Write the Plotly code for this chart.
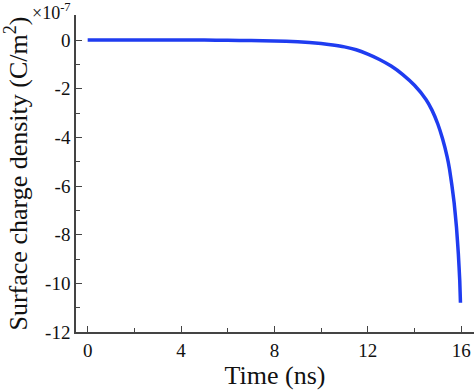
import plotly.graph_objects as go

time_ns = [0, 1, 2, 3, 4, 5, 6, 7, 8, 9, 10, 10.5, 11, 11.5, 12, 12.5, 13, 13.5, 14,
           14.5, 14.75, 15.0, 15.2, 15.4, 15.5, 15.6, 15.7, 15.8, 15.88, 15.94, 15.97]
density_e7 = [0, 0, 0, 0, 0, 0, -0.01, -0.02, -0.04, -0.07, -0.14, -0.2, -0.28, -0.4,
              -0.58, -0.8, -1.07, -1.42, -1.86, -2.45, -2.88, -3.45, -4.05, -4.8, -5.3,
              -5.95, -6.7, -7.7, -8.8, -9.9, -10.8]

x_ticks = [0, 4, 8, 12, 16]
y_ticks = [0, -2, -4, -6, -8, -10, -12]

font_family = "Liberation Serif, Times New Roman, DejaVu Serif, serif"

fig = go.Figure()
fig.add_trace(go.Scatter(
    x=time_ns, y=density_e7, mode="lines",
    line=dict(color="#1f3cf0", width=3.5, shape="spline", smoothing=0.4),
    showlegend=False, hoverinfo="skip",
))

axis_common = dict(
    showgrid=False, zeroline=False, showline=True, linecolor="#444", linewidth=1.5,
    ticks="inside", ticklen=6, tickwidth=1.2, tickcolor="#444",
    tickfont=dict(family=font_family, size=19, color="#111"),
    minor=dict(ticks="inside", ticklen=4, tickwidth=1, tickcolor="#444"),
)

fig.update_xaxes(
    range=[-0.5, 16.55], tickvals=x_ticks, ticktext=[str(v) for v in x_ticks],
    title=dict(text="Time (ns)", font=dict(family=font_family, size=26, color="#111"), standoff=6),
    minor_dtick=2, minor_tick0=0,
    **axis_common,
)
fig.update_yaxes(
    range=[-12, 1.03], tickvals=y_ticks, ticktext=[str(v) for v in y_ticks],
    title=dict(text="Surface charge density (C/m<sup>2</sup>)",
               font=dict(family=font_family, size=26, color="#111"), standoff=10),
    minor_dtick=1, minor_tick0=0,
    **axis_common,
)

fig.add_annotation(
    text="×10<sup>-7</sup>", xref="paper", yref="paper", x=0, y=1.0,
    xanchor="right", yanchor="bottom", xshift=-3, yshift=-10, showarrow=False,
    font=dict(family=font_family, size=18, color="#111"),
)

fig.update_layout(
    width=474, height=391,
    margin=dict(l=76, r=0, t=15, b=59),
    font=dict(family=font_family, color="#111"),
    plot_bgcolor="white", paper_bgcolor="white",
)

fig.write_html("out.html", config={"displayModeBar": False},
               post_script="document.body.style.margin='0';")
